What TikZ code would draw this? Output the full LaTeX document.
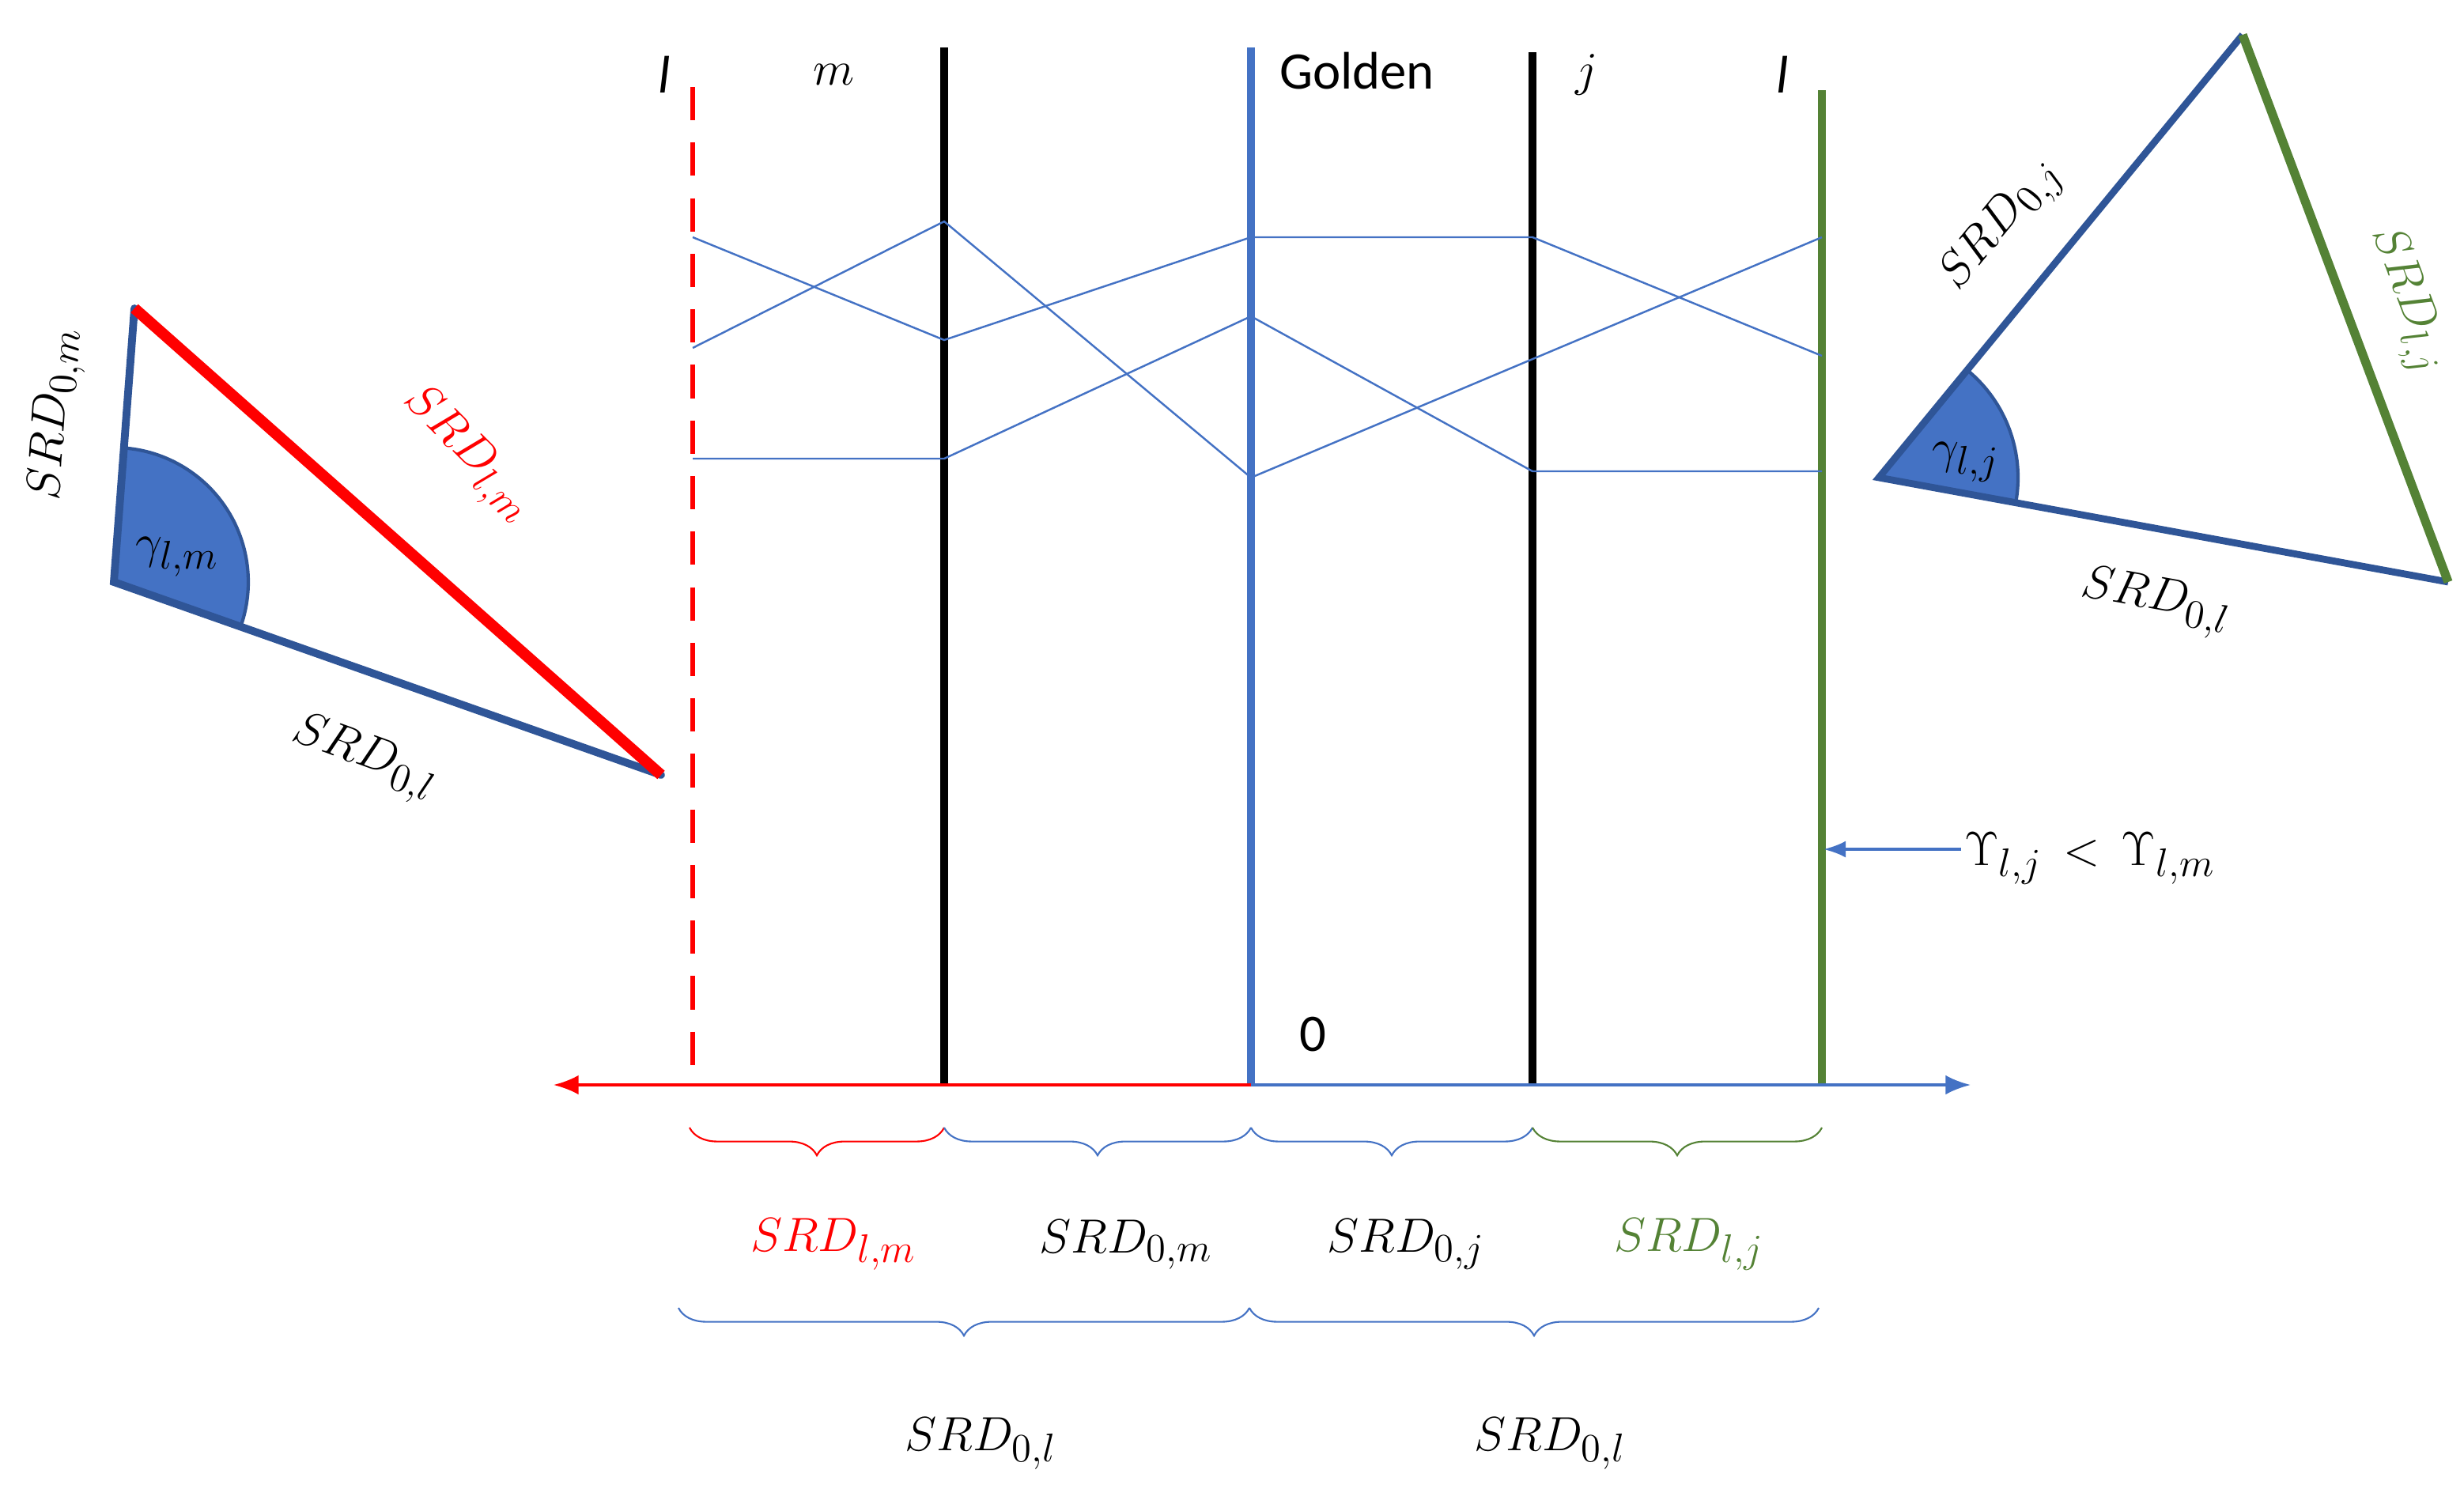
\documentclass[tikz,border=0pt]{standalone}
\usepackage{fontspec}
\newfontfamily\sansf{Carlito}
\usetikzlibrary{decorations.pathreplacing,arrows.meta}
\definecolor{mblue}{HTML}{4472C4}
\definecolor{dblue}{HTML}{2F5597}
\definecolor{mgreen}{HTML}{548235}
\begin{document}
\begin{tikzpicture}[x=0.02cm,y=0.02cm,
  lbl/.style={font=\fontsize{19}{22}\selectfont,inner sep=1pt},
  sl/.style={font=\sansf\fontsize{19}{22}\selectfont,inner sep=1pt},
  vline/.style={line width=2.8pt},
  thin/.style={mblue,line width=0.7pt},
  side/.style={dblue,line width=2.8pt},
  br/.style={decorate,decoration={brace,mirror,amplitude=10pt},line width=0.6pt},
  wedge/.style={fill=mblue,draw=dblue,line width=1.2pt}]
\useasboundingbox (0,0) rectangle (1558,-938.5);
% vertical lines
\coordinate (lt) at (438,-55); \coordinate (lb) at (438,-686);
\coordinate (mt) at (597,-30); \coordinate (mb) at (597,-686);
\coordinate (gt) at (791,-30); \coordinate (gb) at (791,-686);
\coordinate (jt) at (969,-33); \coordinate (jb) at (969,-686);
\coordinate (rt) at (1152,-57); \coordinate (rb) at (1152,-686);
\draw[red,line width=1.8pt,dash pattern=on 12pt off 8pt] (lt) -- (lb);
\draw[vline,black] (mt) -- (mb);
\draw[vline,mblue] (gt) -- (gb);
\draw[vline,black] (jt) -- (jb);
\draw[vline,mgreen] (rt) -- (rb);
\node[sl] (tl) at (420,-47) {\itshape l};
\node[lbl] (tm) at (527,-47) {$m$};
\node[sl] (tg) at (858,-45) {Golden};
\node[lbl] (tj) at (1003,-47) {$j$};
\node[sl] (tr) at (1127,-47) {\itshape l};
% thin lines
\draw[thin] (438,-150) -- (597,-215) -- (791,-150) -- (969,-150) -- (1152,-225);
\draw[thin] (438,-220) -- (597,-140) -- (791,-302) -- (1152,-150);
\draw[thin] (438,-290) -- (597,-290) -- (791,-200) -- (969,-298) -- (1152,-298);
% axis
\coordinate (o) at (791,-686);
\coordinate (ax1) at (350,-686);
\coordinate (ax2) at (1246,-686);
\draw[red,line width=1pt,-{Latex[length=9pt,width=7pt]}] (o) -- (ax1);
\draw[mblue,line width=1pt,-{Latex[length=9pt,width=7pt]}] (o) -- (ax2);
\node[sl] (zero) at (830,-654) {0};
% braces row 1
\draw[br,red] (436,-713) -- (597,-713);
\draw[br,mblue] (597,-713) -- (791,-713);
\draw[br,mblue] (791,-713) -- (969,-713);
\draw[br,mgreen] (969,-713) -- (1152,-713);
\node[lbl,red] (b1) at (527,-787) {$SRD_{l,m}$};
\node[lbl] (b2) at (712,-787) {$SRD_{0,m}$};
\node[lbl] (b3) at (889,-787) {$SRD_{0,j}$};
\node[lbl,mgreen] (b4) at (1068,-787) {$SRD_{l,j}$};
% braces row 2
\draw[br,mblue] (429,-827) -- (790,-827);
\draw[br,mblue] (790,-827) -- (1150,-827);
\node[lbl] (c1) at (620,-913) {$SRD_{0,l}$};
\node[lbl] (c2) at (980,-913) {$SRD_{0,l}$};
% comparison arrow
\node[lbl,anchor=west] (cmp) at (1240,-543) {$\Upsilon_{l,j}\,<\,\Upsilon_{l,m}$};
\coordinate (rp) at (1153,-537);
\draw[mblue,line width=1pt,-{Latex[length=8pt,width=6pt]}] (cmp.west|-rp) -- (rp);
% left triangle
\coordinate (LA) at (85,-195); \coordinate (LV) at (72,-368); \coordinate (LB) at (418,-490);
\filldraw[wedge] (LV) -- ++(-19.4:85) arc[start angle=-19.4,end angle=85.7,radius=85] -- cycle;
\draw[side,line cap=round] (LA) -- (LV) -- (LB);
\draw[red,line width=4pt] (LA) -- (LB);
\node[lbl] (gl) at (112,-352) {$\gamma_{l,m}$};
\node[lbl,rotate=86] (l1) at (36,-262) {$SRD_{0,m}$};
\node[lbl,red,rotate=-45] (l2) at (295,-288) {$SRD_{l,m}$};
\node[lbl,rotate=-20] (l3) at (230,-480) {$SRD_{0,l}$};
% right triangle
\coordinate (RV) at (1188,-302); \coordinate (RA) at (1418,-22); \coordinate (RB) at (1548,-368);
\filldraw[wedge] (RV) -- ++(-10.4:88) arc[start angle=-10.4,end angle=50.6,radius=88] -- cycle;
\draw[side,line width=2.5pt] (RA) -- (RV) -- (RB);
\draw[mgreen,line width=3.2pt] (RA) -- (RB);
\node[lbl] (gr) at (1243,-292) {$\gamma_{l,j}$};
\node[lbl,rotate=50.6] (r1) at (1266,-143) {$SRD_{0,j}$};
\node[lbl,mgreen,rotate=-69.4] (r2) at (1521,-190) {$SRD_{l,j}$};
\node[lbl,rotate=-10.4] (r3) at (1363,-381) {$SRD_{0,l}$};
\end{tikzpicture}
\end{document}
